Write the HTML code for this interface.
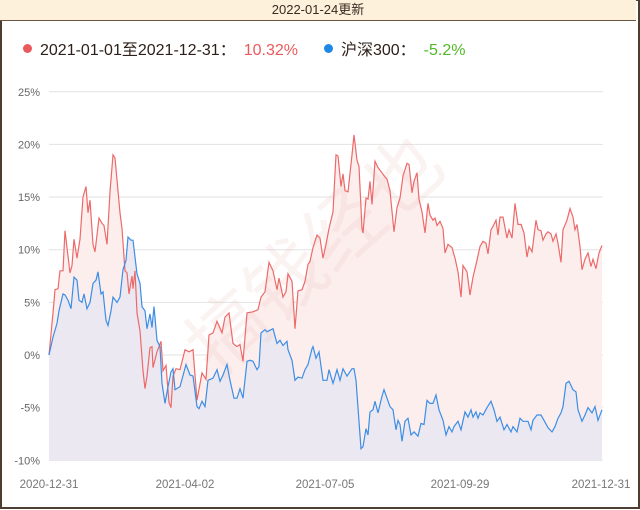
<!DOCTYPE html>
<html><head><meta charset="utf-8"><style>
body{margin:0;width:640px;height:510px;overflow:hidden;background:#fff;font-family:"Liberation Sans","Noto Sans CJK SC",sans-serif}
#f{position:absolute;left:0;top:0;width:636px;height:506px;border:2px solid #4e3d31;border-top:1px solid #4e3d31}
#h{position:absolute;left:0;top:0;width:636px;height:20px;background:#fdf1dc;border-bottom:1px solid #6b5444;text-align:center;font-size:13px;line-height:20px;color:#3a2a20}
#lg{position:absolute;left:23px;top:40px;font-size:16px;line-height:22px;color:#2e2018;white-space:nowrap}
.dot{display:inline-block;width:9px;height:9px;border-radius:50%;vertical-align:2px}
svg{position:absolute;left:0;top:0}
</style></head><body>
<div id="f"></div>
<div id="h">2022-01-24更新</div>
<div id="lg"><span class="dot" style="background:#ea5a5c;margin-right:8px"></span>2021-01-01至2021-12-31：<span style="color:#ea5a5c;margin-left:8px">10.32%</span><span class="dot" style="background:#1e88e5;margin-left:26px;margin-right:8px"></span>沪深300：<span style="color:#52b82a;margin-left:8px">-5.2%</span></div>
<svg width="640" height="510" id="s"></svg>
<script>
var R=[[49,0],[53,4],[55,6.2],[58,6.3],[60,8],[63,8],[65,11.8],[70,7.8],[72,8.5],[74,11],[77,9.2],[80,11],[83,15],[86,16],[88,13.5],[90,14.7],[93,10.5],[95,9.8],[99,13],[102,12.5],[104,12.3],[107,10.5],[110,15.5],[113,19],[115,18.7],[120,13.5],[122,12],[125,8],[127,7.8],[129,5.8],[132,7.5],[133,6.3],[135,8],[137,4],[140,2.3],[143,-1.5],[145,-3.2],[147,-2],[150,0.7],[152,0.8],[153,-1.2],[157,0.3],[161,1.3],[163,-1.5],[166,-1],[169,-4.5],[171,-5],[173,-2],[176,-1.3],[180,-1.4],[185,0.5],[189,0.3],[193,0.5],[197,-4.3],[202,-1.7],[206,-2.3],[209,1.9],[213,2.1],[217,3.2],[222,2.1],[225,3.6],[229,4],[233,1.1],[237,0.8],[240,1],[243,-0.6],[247,4],[253,4.1],[258,4.3],[261,5.5],[265,6],[269,8.8],[273,8],[277,6.2],[279,7.3],[283,5.5],[286,6],[288,7.7],[292,7],[295,2.5],[298,6.1],[302,6.2],[305,7],[308,8.6],[310,8.9],[313,10.2],[317,11.4],[320,11.1],[323,9.2],[326,10.5],[329,12],[333,13.6],[336,19],[338,18.9],[341,16],[343,17.2],[345,15.6],[348,15.5],[352,19],[354,20.9],[357,18.5],[359,17.9],[362,12],[363,11.6],[366,14.9],[368,14.8],[370,16.5],[372,14.3],[375,18.4],[378,17.8],[382,17.3],[385,16.9],[387,16.7],[390,15.6],[394,11.7],[397,14],[400,14.9],[403,17],[407,18.2],[409,18.1],[412,15.4],[414,16.5],[417,17.3],[419,14.8],[422,13.6],[425,11.6],[428,14.4],[430,13.3],[433,12.8],[435,13],[437,12.3],[440,12.7],[443,12],[445,9.7],[448,10.5],[452,10.2],[455,9.2],[458,7.9],[461,5.5],[463,8.5],[467,7.9],[470,5.7],[473,7.4],[477,9],[480,10.3],[483,10.8],[486,10.6],[488,9.6],[491,11.9],[493,12.2],[496,12.8],[498,11.4],[500,13.1],[503,13.1],[507,11.1],[509,11.9],[512,11.1],[515,14.4],[518,12.4],[521,12.4],[524,11.6],[527,9.3],[529,10.3],[532,9.8],[536,12.8],[538,11.9],[541,11.8],[543,10.9],[546,11.5],[548,11.7],[551,11.5],[553,10.8],[556,11.5],[558,10.6],[561,8.8],[563,11.9],[567,12.8],[570,13.9],[573,13.1],[575,11.9],[577,12.4],[580,10.3],[582,8.1],[585,9.1],[588,9.7],[591,8.4],[593,9.1],[596,8.2],[599,9.7],[602,10.4]];
var B=[[49,0],[53,1.7],[57,3],[59,4.2],[63,5.8],[65,5.7],[68,5.2],[71,4.4],[74,7.4],[77,7.1],[79,5.2],[82,5],[84,5.8],[87,4.4],[90,5],[93,6.8],[96,7.1],[98,7.9],[101,5.8],[103,6],[106,3.3],[108,2.8],[111,4.2],[113,5.5],[117,5],[120,5.5],[123,8.1],[126,9],[128,11.2],[131,10.9],[133,10.9],[137,7.7],[140,6.8],[142,4.6],[145,4.2],[147,2.5],[150,3.9],[152,2.6],[154,4.6],[157,1.4],[160,0.8],[162,-2.7],[165,-4.6],[168,-3],[171,-1.6],[173,-1.3],[175,-3.3],[180,-3],[186,-0.9],[190,-1.9],[193,-2],[197,-4.9],[199,-5.1],[202,-4.4],[205,-4.9],[208,-2.4],[213,-2.2],[217,-1.4],[220,-2.5],[223,-1.9],[227,-0.9],[230,-2.4],[234,-4.1],[237,-4.1],[240,-3.2],[243,-4.1],[247,-0.6],[250,-0.5],[253,-0.6],[257,-1.4],[259,-1.1],[261,2.1],[265,2.4],[267,2.2],[271,2.4],[273,2.5],[277,1.1],[280,1.4],[283,0.9],[287,1.3],[288,0.5],[292,-0.5],[295,-2.4],[298,-2.1],[302,-2.2],[305,-1.4],[308,-0.9],[312,0.6],[313,0.8],[316,-0.3],[319,0.3],[323,-2.4],[327,-2.4],[329,-1.4],[333,-2.7],[337,-1.4],[340,-2.4],[343,-1.3],[347,-2],[352,-1.3],[354,-1.3],[356,-2.4],[361,-8.9],[363,-8.7],[366,-7],[368,-7.6],[370,-5.4],[373,-5.2],[375,-4.4],[378,-5.5],[382,-3.9],[384,-3.3],[387,-4.1],[390,-4.9],[393,-5.2],[396,-7.1],[398,-6.2],[400,-6.6],[402,-8.2],[405,-6.3],[408,-6],[411,-7.6],[414,-7.3],[418,-7.7],[421,-6.5],[424,-6.6],[427,-4.3],[430,-4.6],[433,-4.6],[436,-3.8],[439,-5.2],[443,-6.2],[446,-7.6],[449,-6.8],[452,-7.3],[454,-6.8],[458,-6.3],[461,-7.1],[465,-5.4],[468,-5.9],[471,-5.2],[473,-5.9],[476,-5.4],[478,-6],[480,-5.5],[483,-5.7],[487,-5],[491,-4.4],[494,-5.2],[497,-6.3],[500,-5.9],[504,-7.1],[507,-6.6],[511,-7.3],[513,-6.8],[517,-7.3],[520,-6],[523,-6.3],[528,-6.3],[531,-7.1],[533,-6.2],[537,-5.7],[541,-5.7],[544,-6.2],[548,-6.9],[552,-7.3],[555,-6.8],[558,-6],[561,-5.5],[563,-4.9],[566,-2.7],[569,-2.5],[573,-3.3],[576,-3.5],[578,-5.2],[582,-6.3],[585,-5.7],[588,-5],[592,-5.5],[595,-4.9],[598,-6.2],[602,-5.2]];
function Y(p){return 355-p*10.53}
function pts(a){return a.map(function(d){return d[0]+','+Y(d[1]).toFixed(1)}).join(' ')}
var s='';
var labs=['25%','20%','15%','10%','5%','0%','-5%','-10%'];
for(var i=0;i<8;i++){var y=Y(25-5*i);s+='<line x1="49" x2="603" y1="'+y+'" y2="'+y+'" stroke="#e2e2e2" stroke-width="1"/>';
s+='<text x="40" y="'+(y+4)+'" text-anchor="end" font-size="11" fill="#666">'+labs[i]+'</text>';}
s+='<polygon points="49,460 '+pts(R)+' 602,460" fill="#fdeeee"/>';
s+='<polygon points="49,460 '+pts(B)+' 602,460" fill="#ece8f1"/>';
s+='<text x="320" y="280" transform="rotate(-42 320 260)" text-anchor="middle" font-size="78" fill="#e9c9bf" fill-opacity="0.22" font-family="Noto Sans CJK SC,sans-serif">搞钱经也</text>';
s+='<polyline points="'+pts(R)+'" fill="none" stroke="#ec6a6a" stroke-width="1.2"/>';
s+='<polyline points="'+pts(B)+'" fill="none" stroke="#3b8ee6" stroke-width="1.2"/>';
var xl=[[49,'2020-12-31'],[185,'2021-04-02'],[325,'2021-07-05'],[460,'2021-09-29'],[601,'2021-12-31']];
xl.forEach(function(d){s+='<text x="'+d[0]+'" y="488" text-anchor="middle" font-size="11.5" fill="#777">'+d[1]+'</text>'});
document.getElementById('s').innerHTML=s;
</script>
</body></html>
